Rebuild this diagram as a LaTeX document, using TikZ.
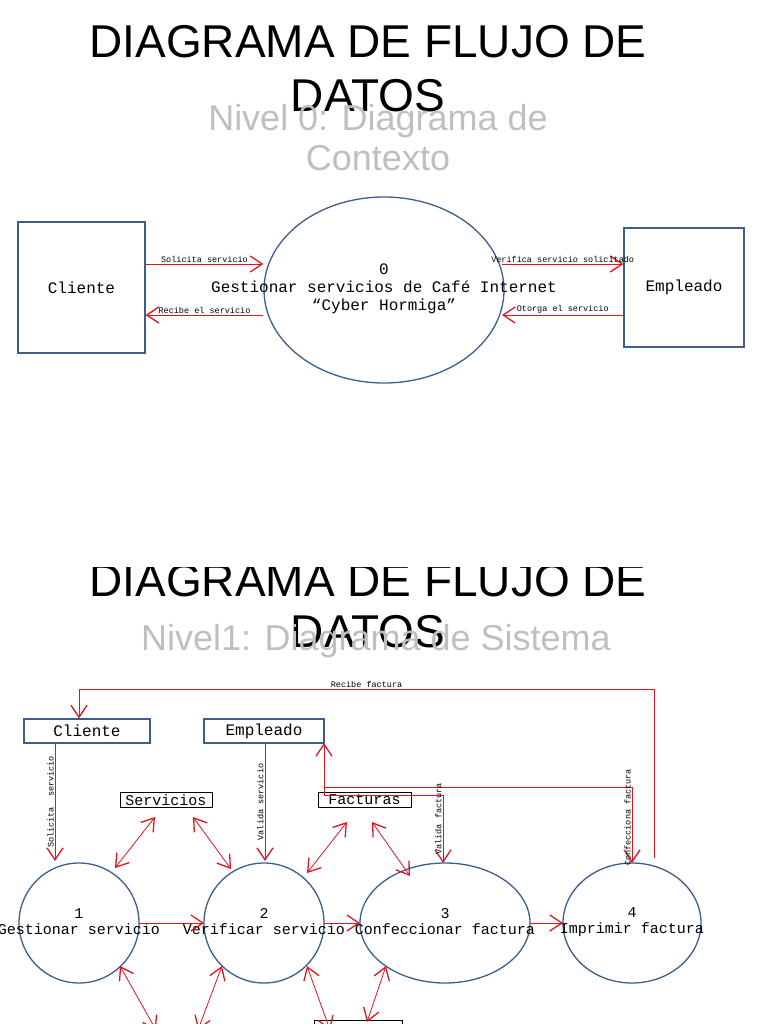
\documentclass[tikz,border=0pt]{standalone}
\usepackage{fontspec}
\setmainfont{Liberation Mono}
\newfontfamily\titlefont{Liberation Sans}
\usetikzlibrary{shapes.geometric,arrows.meta}
\definecolor{bblue}{HTML}{3B5E8C}
\definecolor{rred}{HTML}{E0141E}
\definecolor{ggray}{HTML}{BFBFBF}
\tikzset{
  ttl/.style={font=\titlefont\fontsize{46}{46}\selectfont, inner sep=0},
  sub/.style={font=\titlefont\fontsize{36}{36}\selectfont, text=ggray, inner sep=0},
  ent/.style={draw=bblue, line width=1.2pt, inner sep=0},
  proc/.style={draw=bblue, line width=1.3pt, ellipse, inner sep=0},
  store/.style={draw=black, line width=0.8pt, inner sep=1pt, font=\fontsize{15}{15}\selectfont},
  txt/.style={inner sep=0, font=\fontsize{15}{16}\selectfont, align=center},
  flow/.style={draw=rred, line width=0.8pt, -{Straight Barb[length=12pt,width=16pt,line width=1.3pt]}},
  bflow/.style={draw=rred, line width=0.8pt, {Straight Barb[length=12pt,width=16pt,line width=1.3pt]}-{Straight Barb[length=12pt,width=16pt,line width=1.3pt]}},
  lbl/.style={inner sep=1pt, font=\fontsize{8.5}{9}\selectfont},
}
\begin{document}
\begin{tikzpicture}[x=1pt,y=-1pt]
\useasboundingbox (0,0) rectangle (768,1024);
\clip (0,0) rectangle (768,1024);
% ---------- Level 0
\node[ttl] (t1) at (368,42) {DIAGRAMA DE FLUJO DE};
\node[ttl] (t2) at (368,96) {DATOS};
\node[sub] (s1) at (378,121) {Nivel 0: Diagrama de};
\node[sub] (s2) at (378,158) {Contexto};
\node[ent, minimum width=127pt, minimum height=131pt] (cli) at (81.5,287.5) {};
\node[txt, font=\fontsize{16}{16}\selectfont] at (cli) {Cliente};
\node[ent, minimum width=120pt, minimum height=119pt] (emp) at (684,287.5) {};
\node[txt, font=\fontsize{16}{16}\selectfont] at (emp) {Empleado};
\node[proc, minimum width=240pt, minimum height=186pt] (p0) at (384,290) {};
\node[txt, font=\fontsize{16}{18}\selectfont] at (384,289) {0\\Gestionar servicios de Café Internet\\“Cyber Hormiga”};
\draw[flow] (cli.east|-0,264) -- node[lbl,above]{Solicita servicio} (p0.west|-0,264);
\draw[flow] (p0.west|-0,315) -- node[lbl,above]{Recibe el servicio} (cli.east|-0,315);
\draw[flow] (502,264) -- node[lbl,above]{Verifica servicio solicitado} (emp.west|-0,264);
\draw[flow] (emp.west|-0,315) -- node[lbl,above]{Otorga el servicio} (502,315);
% ---------- Level 1
\begin{scope}
\clip (0,567) rectangle (768,1024);
\node[ttl] (t3) at (368,581) {DIAGRAMA DE FLUJO DE};
\end{scope}
\node[ttl] (t4) at (368,632) {DATOS};
\node[sub] (s3) at (376,641) {Nivel1: Diagrama de Sistema};
\node[ent, minimum width=126pt, minimum height=24pt, font=\fontsize{16}{16}\selectfont] (c1) at (87,731) {Cliente};
\node[ent, minimum width=120pt, minimum height=24pt, font=\fontsize{16}{16}\selectfont] (e1) at (264,731) {Empleado};
\node[store, minimum width=92pt, minimum height=15pt] (serv) at (166,800) {Servicios};
\node[store, minimum width=93pt, minimum height=15pt] (fact) at (364.5,800) {Facturas};
\node[store, minimum width=88pt, minimum height=15pt] (reg) at (358,1028) {};
\node[proc, minimum width=120pt, minimum height=120pt] (q1) at (79,923) {};
\node[proc, minimum width=120pt, minimum height=120pt] (q2) at (264,923) {};
\node[proc, minimum width=170pt, minimum height=120pt] (q3) at (445,923) {};
\node[proc, minimum width=138pt, minimum height=120pt] (q4) at (632,923) {};
\node[txt] at (79,922) {1\\Gestionar servicio};
\node[txt] at (264,922) {2\\Verificar servicio};
\node[txt] at (445,922) {3\\Confeccionar factura};
\node[txt] at (632,922) {4\\Imprimir factura};
\coordinate (rf) at (654,858);
\draw[flow] (rf) -- (654,689) -- node[lbl,above]{Recibe factura} (79,689) -- (c1.north-|79,0);
\draw[flow] (55,743) -- node[lbl,above,rotate=90,pos=0.5]{Solicita\ \ servicio} (55,861);
\draw[flow] (265,743) -- node[lbl,above,rotate=90]{Valida servicio} (265,861);
\draw[flow] (324,795) -- (324,743);
\draw[flow] (324,787) -- (632,787) -- node[lbl,above,rotate=90,pos=0.4]{Confecciona factura} (632,863);
\draw[flow] (324,795) -- (443,795) -- node[lbl,above,rotate=90,pos=0.35]{Valida factura} (443,863);
\draw[bflow] (155,817) -- (115,868);
\draw[bflow] (193,817) -- (231,869);
\draw[bflow] (347,822) -- (307,873);
\draw[bflow] (372,822) -- (410,876);
\draw[flow] (139,923) -- (204,923);
\draw[flow] (324,923) -- (360,923);
\draw[flow] (530,923) -- (563,923);
\draw[bflow] (120,966) -- (156,1030);
\draw[bflow] (222,966) -- (198,1030);
\draw[bflow] (307,966) -- (330,1030);
\draw[bflow] (386,966) -- (367,1022);
\end{tikzpicture}
\end{document}
